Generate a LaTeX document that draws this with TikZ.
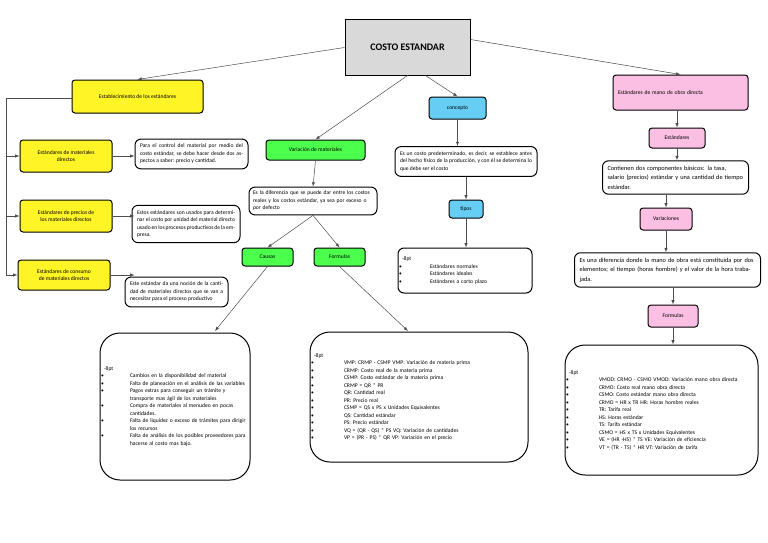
\documentclass[tikz,border=0pt]{standalone}
\usepackage{fontspec}
\setmainfont{Carlito}
\newcommand\myjust{\leftskip=0pt\rightskip=0pt\relax\parfillskip=0pt plus 1fil\relax}
\newenvironment{blst}[1]{\begin{list}{\textbullet}{\setlength{\leftmargin}{#1}\setlength{\labelwidth}{8pt}\setlength{\labelsep}{#1-8pt}\setlength{\itemsep}{0pt}\setlength{\parsep}{0pt}\setlength{\topsep}{0pt}\setlength{\partopsep}{0pt}}}{\end{list}}
\begin{document}
\begin{tikzpicture}[x=1pt,y=-1pt,
 bx/.style={draw=black,line width=1pt,rounded corners=3pt,inner sep=2pt,align=center,font=\fontsize{5.6}{7.5}\selectfont},
 yel/.style={bx,fill=yellow!85!white},
 grn/.style={bx,fill=green!70!white},
 blu/.style={bx,fill=cyan!60!white},
 pnk/.style={bx,fill=magenta!25!white},
 wht/.style={bx,fill=white,rounded corners=6pt,align=justify,inner sep=5pt},
 big/.style={bx,fill=white,rounded corners=20pt,align=left,inner sep=4pt},
 ar/.style={-latex,line width=0.5pt,draw=black!70},
 ln/.style={line width=0.5pt,draw=black!70}]
\useasboundingbox (0,0) rectangle (768,543);
\node[bx,fill=black!15,rounded corners=0pt,minimum width=125pt,minimum height=55pt,font=\bfseries\fontsize{10}{12}\selectfont] (t) at (407.5,47.5) {COSTO ESTANDAR};
\node[yel,minimum width=131pt,minimum height=33pt] (est) at (137.5,96.5) {Establecimiento de los estándares};
\node[yel,minimum width=92pt,minimum height=32pt] (y1) at (66,156) {Estándares de materiales\\directos};
\node[yel,minimum width=92pt,minimum height=32pt] (y2) at (66,216) {Estándares de precios de\\los materiales directos};
\node[yel,minimum width=92pt,minimum height=30pt] (y3) at (64,275) {Estándares de consumo\\de materiales directos};
\node[wht,text width=103pt] (w1) at (191.5,154) {Para el control del material por medio del costo estándar, se debe hacer desde dos aspectos a saber: precio y cantidad.};
\node[wht,text width=98pt] (w2) at (186,224) {Estos estándares son usados para determinar el costo por unidad del material directo usado en los procesos productivos de la empresa.};
\node[wht,text width=93pt] (w3) at (176.5,292) {Este estándar da una noción de la cantidad de materiales directos que se van a necesitar para el proceso productivo};
\coordinate (c0) at (6,98);
\draw[ln] (est.west|-c0) -- (c0) -- (6,275);
\foreach \y in {y1,y2,y3}{\draw[ar] (c0|-\y.west) -- (\y.west);\draw[ar] (\y.east) -- (\y.east-|w1.west);}
\draw[ar] (t.west) -- (est.north);
\node[grn,minimum width=99pt,minimum height=20pt] (vm) at (315.5,150) {Variación de materiales};
\node[wht,text width=120pt,align=left,inner sep=4pt] (dif) at (313,201) {Es la diferencia que se puede dar entre los costos reales y los costos estándar, ya sea por exceso o por defecto};
\node[grn,minimum width=51pt,minimum height=18pt] (cau) at (267.5,257) {Causas};
\node[grn,minimum width=51pt,minimum height=18pt] (for) at (339.5,257) {Formulas};
\draw[ar] (t.south) -- (vm.north);
\draw[ar] (vm.south) -- (dif.north);
\draw[ar] (dif.south) -- (cau.north);
\draw[ar] (dif.south) -- (for.north);
\node[big,text width=142pt,minimum height=147pt] (bc) at (175,406.5) {\begin{blst}{26pt}\myjust
\item Cambios en la disponibilidad del material
\item Falta de planeación en el análisis de las variables
\item Pagos extras para conseguir un trámite y transporte mas ágil de los materiales
\item Compra de materiales al menudeo en pocas cantidades.
\item Falta de liquidez o exceso de trámites para dirigir los recursos
\item Falta de análisis de los posibles proveedores para hacerse al costo mas bajo.
\end{blst}};
\node[big,text width=210pt,minimum height=130pt] (bf) at (419,397) {\begin{blst}{30pt}
\item VMP: CRMP - CSMP VMP: Variación de materia prima
\item CRMP: Costo real de la materia prima
\item CSMP: Costo estándar de la materia prima
\item CRMP = QR * PR
\item QR: Cantidad real
\item PR: Precio real
\item CSMP = QS x PS x Unidades Equivalentes
\item QS: Cantidad estándar
\item PS: Precio estándar
\item VQ = (QR - QS) * PS VQ: Variación de cantidades
\item VP = (PR - PS) * QR VP: Variación en el precio
\end{blst}};
\coordinate (ca) at (215,331);
\coordinate (fa) at (408,331);
\draw[ar] (cau.south) -- (ca);
\draw[ar] (for.south) -- (fa);
\node[blu,minimum width=57pt,minimum height=22pt] (con) at (457.5,108) {concepto};
\node[wht,text width=132pt] (cos) at (466,161.5) {Es un costo predeterminado, es decir, se establece antes del hecho físico de la producción, y con él se determina lo que debe ser el costo};
\node[blu,minimum width=34pt,minimum height=18pt] (tip) at (466,209) {tipos};
\node[big,rounded corners=6pt,text width=126pt,minimum height=45pt] (tl) at (465,270.5) {\begin{blst}{28pt}
\item Estándares normales
\item Estándares ideales
\item Estándares a corto plazo
\end{blst}};
\draw[ar] (t.south) ++(18,0) -- (con.north);
\draw[ar] (con.south) -- (con.south|-cos.north);
\draw[ar] (tip.north|-cos.south) -- (tip.north);
\draw[ar] (tip.south) -- (tl.north-|tip.south);
\node[pnk,minimum width=135pt,minimum height=35pt,text width=125pt,align=left] (mo) at (680.5,92.5) {Estándares de mano de obra directa};
\node[pnk,minimum width=56pt,minimum height=20pt] (es) at (677,138) {Estándares};
\node[wht,text width=136pt,align=left,font=\fontsize{6.3}{9.5}\selectfont] (cn) at (675.5,177.5) {Contienen dos componentes básicos: la tasa, salario (precios) estándar y una cantidad de tiempo estándar.};
\node[pnk,minimum width=52pt,minimum height=22pt] (va) at (666,219) {Variaciones};
\node[wht,text width=176pt,align=left,font=\fontsize{6.3}{9.5}\selectfont] (ed) at (667.5,270) {Es una diferencia donde la mano de obra está constituida por dos elementos; el tiempo (horas hombre) y el valor de la hora trabajada.};
\node[pnk,minimum width=50pt,minimum height=22pt] (fo) at (673,316) {Formulas};
\node[big,text width=185pt,minimum height=130pt] (bm) at (661.5,410) {\begin{blst}{30pt}\myjust
\item VMOD: CRMO - CSMO VMOD: Variación mano obra directa
\item CRMO: Costo real mano obra directa
\item CSMO: Costo estándar mano obra directa
\item CRMO = HR x TR HR: Horas hombre reales
\item TR: Tarifa real
\item HS: Horas estándar
\item TS: Tarifa estándar
\item CSMO = HS x TS x Unidades Equivalentes
\item VE = (HR -HS) * TS VE: Variación de eficiencia
\item VT = (TR - TS) * HR VT: Variación de tarifa
\end{blst}};
\draw[ar] (t.east) ++(0,-8) -- (mo.north);
\draw[ar] (mo.south-|es.north) -- (es.north);
\draw[ar] (es.south) -- (es.south|-cn.north);
\draw[ar] (va.north|-cn.south) -- (va.north);
\draw[ar] (va.south) -- (va.south|-ed.north);
\draw[ar] (fo.north|-ed.south) -- (fo.north);
\draw[ar] (fo.south) -- (fo.south|-bm.north);
\end{tikzpicture}
\end{document}
